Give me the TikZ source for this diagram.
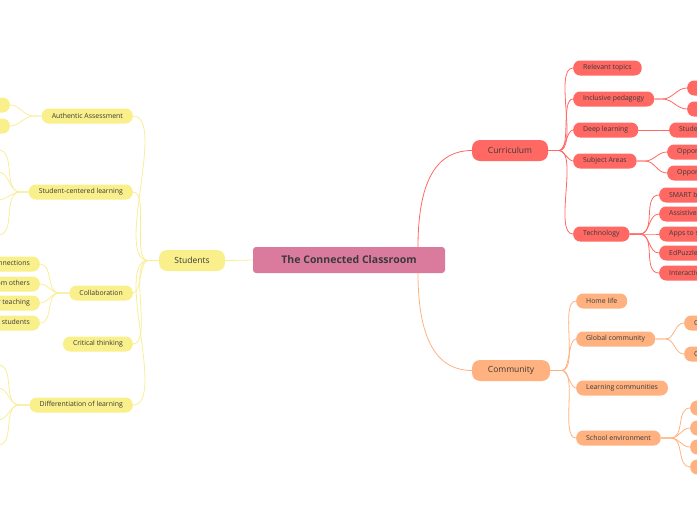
\documentclass[tikz,border=0pt]{standalone}
\usepackage{fontspec}
\setmainfont{Open Sans}
\definecolor{yel}{HTML}{F9F08C}
\definecolor{yell}{HTML}{F8EE98}
\definecolor{red}{HTML}{FF6863}
\definecolor{pch}{HTML}{FFB280}
\definecolor{pnk}{HTML}{DA7B9D}
\definecolor{txt}{HTML}{3A3A3A}
\begin{document}
\begin{tikzpicture}[x=1pt,y=-1pt,
 b/.style={rounded corners=7pt,minimum height=15pt,inner xsep=10pt,inner ysep=0pt,font=\fontsize{6.9}{8}\selectfont,text=txt},
 ys/.style={b,fill=yel},rs/.style={b,fill=red},ps/.style={b,fill=pch},
 big/.style={rounded corners=8pt,minimum height=21pt,inner xsep=12pt,font=\fontsize{8.5}{10}\selectfont,text=txt},
 ey/.style={draw=yell,line width=0.8pt},er/.style={draw=red,line width=0.8pt},ep/.style={draw=pch,line width=0.8pt}]
\clip (0,0) rectangle (697,520);
\useasboundingbox (0,0) rectangle (697,520);
% central
\node[rounded corners=3pt,fill=pnk,minimum width=192pt,minimum height=26pt,font=\fontsize{10.5}{12}\selectfont\bfseries,text=txt] (C) at (349,260) {The Connected Classroom};
\node[big,fill=yel,minimum width=66pt] (S) at (192,260.5) {Students};
\node[big,fill=red,minimum width=76pt] (K) at (510,150.5) {Curriculum};
\node[big,fill=pch,minimum width=78pt] (M) at (511,370.5) {Community};
\draw[ey] (C.west) -- (S.east);
\draw[er] (418,247) .. controls (418,175) and (440,150.5) .. (K.west);
\draw[ep] (418,273) .. controls (418,345) and (440,370.5) .. (M.west);
% students children
\node[ys,anchor=east] (s1) at (133,116) {Authentic Assessment};
\node[ys,anchor=east] (s2) at (133,192) {Student-centered learning};
\node[ys,anchor=east] (s3) at (133,293) {Collaboration};
\node[ys,anchor=east] (s4) at (133,344) {Critical thinking};
\node[ys,anchor=east] (s5) at (133,405) {Differentiation of learning};
\coordinate (sj) at (148,260.5);
\draw[ey] (S.west) -- (sj);
\foreach \n in {s1,s2,s3,s4,s5} \draw[ey] (sj) to[out=180,in=0,looseness=0.6] (\n.east);
% authentic children
\node[ys,anchor=east] (a1) at (10,105) {Project outcomes to assess content};
\node[ys,anchor=east] (a2) at (10,126) {Real-world tasks to assess content};
\foreach \n in {a1,a2} \draw[ey] (s1.west) -- ++(-8,0) to[out=180,in=0] (\n.east);
% student-centered (offscreen)
\foreach \y in {150,172,200,235} {\coordinate (c) at (-2,\y); \draw[ey] (s2.west) -- ++(-8,0) to[out=180,in=0] (c);}
% collaboration
\node[ys,anchor=east] (b1) at (40,264) {Making connections};
\node[ys,anchor=east] (b2) at (40,284) {Learning from others};
\node[ys,anchor=east] (b3) at (40,303) {Peer teaching};
\node[ys,anchor=east] (b4) at (40,323) {Supporting other students};
\foreach \n in {b1,b2,b3,b4} \draw[ey] (s3.west) -- ++(-10,0) to[out=180,in=0] (\n.east);
% differentiation offscreen
\foreach \y in {365,388,420,445} {\coordinate (c) at (-2,\y); \draw[ey] (s5.west) -- ++(-10,0) to[out=180,in=0] (c);}
% curriculum children
\node[rs,anchor=west] (k1) at (573,68) {Relevant topics};
\node[rs,anchor=west] (k2) at (573,99) {Inclusive pedagogy};
\node[rs,anchor=west] (k3) at (573,130) {Deep learning};
\node[rs,anchor=west] (k4) at (573,161) {Subject Areas};
\node[rs,anchor=west] (k5) at (573,234) {Technology};
\coordinate (kj) at (559,150.5);
\draw[er] (K.east) -- (kj);
\foreach \n in {k1,k2,k3,k4,k5} \draw[er] (kj) to[out=0,in=180,looseness=0.6] (\n.west);
\node[rs,anchor=west] (i1) at (687,88) {Universal design};
\node[rs,anchor=west] (i2) at (687,109) {Culturally relevant};
\foreach \n in {i1,i2} \draw[er] (k2.east) -- ++(8,0) to[out=0,in=180] (\n.west);
\node[rs,anchor=west] (d1) at (669,130) {Student inquiry};
\draw[er] (k3.east) -- (d1.west);
\node[rs,anchor=west] (o1) at (667,152) {Opportunities};
\node[rs,anchor=west] (o2) at (667,173) {Opportunities};
\foreach \n in {o1,o2} \draw[er] (k4.east) -- ++(8,0) to[out=0,in=180] (\n.west);
\node[rs,anchor=west] (t1) at (659,195) {SMART board};
\node[rs,anchor=west] (t2) at (659,214) {Assistive technology};
\node[rs,anchor=west] (t3) at (659,234) {Apps to support};
\node[rs,anchor=west] (t4) at (659,253) {EdPuzzle};
\node[rs,anchor=west] (t5) at (659,273) {Interactive};
\foreach \n in {t1,t2,t3,t4,t5} \draw[er] (k5.east) -- ++(10,0) to[out=0,in=180] (\n.west);
% community children
\node[ps,anchor=west] (m1) at (576,301) {Home life};
\node[ps,anchor=west] (m2) at (576,339) {Global community};
\node[ps,anchor=west] (m3) at (576,388) {Learning communities};
\node[ps,anchor=west] (m4) at (576,438) {School environment};
\coordinate (mj) at (562,370.5);
\draw[ep] (M.east) -- (mj);
\foreach \n in {m1,m2,m3,m4} \draw[ep] (mj) to[out=0,in=180,looseness=0.6] (\n.west);
\node[ps,anchor=west] (g1) at (684,323) {Connections};
\node[ps,anchor=west] (g2) at (684,354) {Connections};
\foreach \n in {g1,g2} \draw[ep] (m2.east) -- ++(10,0) to[out=0,in=180] (\n.west);
\foreach \y/\t in {408/a,428/b,447/c,467/d} {\node[ps,anchor=west] (e\t) at (690,\y) {Space}; \draw[ep] (m4.east) -- ++(10,0) to[out=0,in=180] (e\t.west);}
\end{tikzpicture}
\end{document}
